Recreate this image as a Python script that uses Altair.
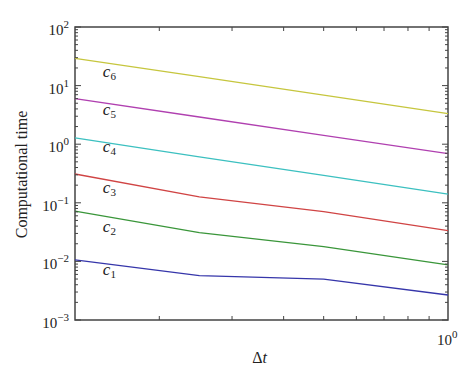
import altair as alt
import pandas as pd

# ---- data ----
dt = [0.125, 0.25, 0.5, 1.0]
c1 = [0.0106, 0.0057, 0.0050, 0.00267]
c2 = [0.072, 0.031, 0.0178, 0.0087]
c3 = [0.31, 0.126, 0.0705, 0.0334]
c4 = [1.28, 0.61, 0.294, 0.141]
c5 = [5.98, 2.91, 1.42, 0.69]
c6 = [29.2, 14.2, 6.85, 3.32]
series_names = ["c1", "c2", "c3", "c4", "c5", "c6"]
series_values = [c1, c2, c3, c4, c5, c6]
series_colors = ["#3636aa", "#3a963a", "#d04444", "#3cc0c0", "#b040b0", "#c6c63e"]

label_x = 0.149
label_y = [0.0071, 0.039, 0.18, 0.9, 3.8, 17.0]
label_digits = ["1", "2", "3", "4", "5", "6"]

y_major = [1e-3, 1e-2, 1e-1, 1.0, 10.0, 100.0]
y_exponents = ["−3", "−2", "−1", "0", "1", "2"]
y_minor = [m * 10.0 ** k for k in range(-3, 2) for m in range(2, 10)]
x_minor = [0.2, 0.3, 0.4, 0.5, 0.6, 0.7, 0.8, 0.9]
x_major = [1.0]
x_exponents = ["0"]
x_title = ["Δ", "t"]
y_title = "Computational time"

FONT = "Liberation Serif"
W, H = 373, 293
INK = "#222"
TICK = "#444"
BASE_SIZE, EXP_SIZE = 15, 11


def exp_width(s):
    return sum(0.564 * EXP_SIZE if ch == "−" else 0.5 * EXP_SIZE for ch in s)


rows = []
for name, vals in zip(series_names, series_values):
    for x, v in zip(dt, vals):
        rows.append({"dt": x, "t": v, "s": name})
lines_df = pd.DataFrame(rows)
labels_df = pd.DataFrame({"dt": [label_x] * 6, "t": label_y, "d": label_digits})

xscale = alt.Scale(type="log", domain=[0.125, 1.0])
yscale = alt.Scale(type="log", domain=[1e-3, 100.0])
X = lambda: alt.X("dt:Q", scale=xscale, axis=None)
Y = lambda: alt.Y("t:Q", scale=yscale, axis=None)

lines = alt.Chart(lines_df).mark_line(strokeWidth=1.3).encode(
    x=X(), y=Y(),
    color=alt.Color("s:N", scale=alt.Scale(domain=series_names, range=series_colors), legend=None),
)

ytick_major_df = pd.DataFrame({"t": y_major})
ytick_minor_df = pd.DataFrame({"t": y_minor})
xtick_df = pd.DataFrame({"dt": x_minor})


def yticks(df, length):
    left = alt.Chart(df).mark_rule(color=TICK, strokeWidth=1).encode(
        y=Y(), x=alt.value(0), x2=alt.value(length))
    right = alt.Chart(df).mark_rule(color=TICK, strokeWidth=1).encode(
        y=Y(), x=alt.value(W), x2=alt.value(W - length))
    return [left, right]


xt_bottom = alt.Chart(xtick_df).mark_rule(color=TICK, strokeWidth=1).encode(
    x=X(), y=alt.value(H), y2=alt.value(H - 4))
xt_top = alt.Chart(xtick_df).mark_rule(color=TICK, strokeWidth=1).encode(
    x=X(), y=alt.value(0), y2=alt.value(4))

# y tick labels: "10" + raised exponent, right-aligned as a whole
ylab_df = pd.DataFrame({"t": y_major, "e": y_exponents,
                        "px": [-6 - exp_width(e) for e in y_exponents]})
ylab_base = alt.Chart(ylab_df).mark_text(font=FONT, fontSize=BASE_SIZE, color=INK,
                                         align="right", baseline="middle", dy=3).encode(
    x=alt.X("px:Q", scale=None), y=Y(), text=alt.value("10"))
ylab_exp = alt.Chart(ylab_df).mark_text(font=FONT, fontSize=EXP_SIZE, color=INK,
                                        align="left", baseline="middle", dy=-2).encode(
    x=alt.X("px:Q", scale=None), y=Y(), text="e:N")

# x tick label
xlab_df = pd.DataFrame({"dt": x_major, "e": x_exponents})
xlab_base = alt.Chart(xlab_df).mark_text(font=FONT, fontSize=BASE_SIZE, color=INK,
                                         align="right", baseline="middle", dx=4).encode(
    x=X(), y=alt.value(H + 20), text=alt.value("10"))
xlab_exp = alt.Chart(xlab_df).mark_text(font=FONT, fontSize=EXP_SIZE, color=INK,
                                        align="left", baseline="middle", dx=4).encode(
    x=X(), y=alt.value(H + 15), text="e:N")

# axis titles
xt_delta = alt.Chart(pd.DataFrame({"a": [x_title[0]]})).mark_text(
    font=FONT, fontSize=16, color=INK, align="right", baseline="middle").encode(
    x=alt.value(W / 2 + 1), y=alt.value(H + 38), text="a:N")
xt_t = alt.Chart(pd.DataFrame({"a": [x_title[1]]})).mark_text(
    font=FONT, fontSize=16, fontStyle="italic", color=INK, align="left", baseline="middle").encode(
    x=alt.value(W / 2 + 1), y=alt.value(H + 38), text="a:N")
yt = alt.Chart(pd.DataFrame({"a": [y_title]})).mark_text(
    font=FONT, fontSize=16, color=INK, align="center", baseline="middle", angle=270).encode(
    x=alt.value(-53), y=alt.value(H / 2 + 1), text="a:N")

# curve labels c_k
lab_c = alt.Chart(labels_df).mark_text(font=FONT, fontSize=17, fontStyle="italic",
                                       color=INK, align="center", baseline="middle").encode(
    x=X(), y=Y(), text=alt.value("c"))
lab_d = alt.Chart(labels_df).mark_text(font=FONT, fontSize=11, color=INK,
                                       align="left", baseline="middle", dx=4, dy=5).encode(
    x=X(), y=Y(), text="d:N")

chart = alt.layer(
    lines, *yticks(ytick_major_df, 6), *yticks(ytick_minor_df, 3), xt_bottom, xt_top,
    ylab_base, ylab_exp, xlab_base, xlab_exp, xt_delta, xt_t, yt, lab_c, lab_d
).properties(
    width=W, height=H,
    autosize=alt.AutoSizeParams(type="none"),
    padding={"left": 67, "top": 19, "right": 18, "bottom": 55},
    background="white",
).configure_view(stroke="#444", strokeWidth=1.5)

chart.save("out.html", embed_options={"renderer": "svg", "actions": False})
